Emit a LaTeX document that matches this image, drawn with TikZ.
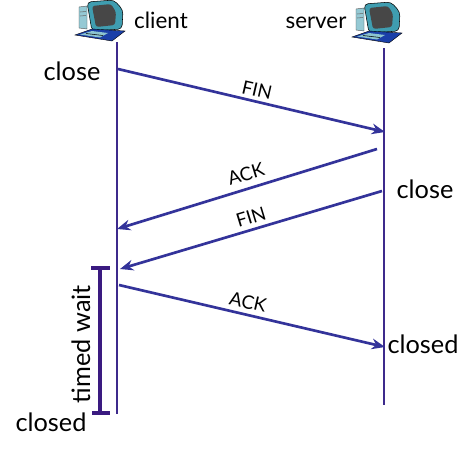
\documentclass[tikz,border=0pt]{standalone}
\usepackage{fontspec}
\setmainfont{Lato}
\usetikzlibrary{arrows.meta}
\definecolor{msg}{HTML}{33339A}
\definecolor{life}{HTML}{3D2A8C}
\definecolor{brk}{HTML}{3A1A80}
\definecolor{tealc}{HTML}{3F9DB0}
\definecolor{bluec}{HTML}{1A3FA8}
\tikzset{
  x=0.75pt,y=-0.75pt,
  lifeline/.style={draw=life,line width=1.4pt},
  message/.style={draw=msg,line width=2pt,-{Stealth[length=10pt,width=8pt]}},
  bracket/.style={draw=brk,line width=2.4pt},
  big/.style={font=\fontsize{19}{21}\selectfont,text=black,inner sep=0pt},
  small/.style={font=\fontsize{14}{16}\selectfont,text=black,inner sep=0pt},
  head/.style={font=\fontsize{16.8}{19}\selectfont,text=black,inner sep=0pt},
  pics/computer/.style={code={
    \fill[tealc!55!white,draw=black!70,line width=.3pt] (-21,-14) -- (-13,-15) -- (-13,8) -- (-21,7) -- cycle;
    \draw[black!60,line width=.4pt] (-20,-9) -- (-14,-9.5) (-20,-5) -- (-14,-5.5);
    \fill[tealc,draw=black,line width=.4pt,rounded corners=3pt] (-13,-19) -- (14,-21) -- (23,-11) -- (22,8) -- (-8,10) -- cycle;
    \fill[black!72,rounded corners=2pt] (-8,-15) -- (11,-17) -- (16,-9) -- (15,4) -- (-4,6) -- cycle;
    \fill[bluec,draw=black,line width=.3pt] (-25,14) -- (-8,8) -- (25,10) -- (12,20) -- cycle;
    \fill[tealc!60!white] (-20,13.5) -- (-8,10) -- (8,12) -- (0,16.5) -- cycle;
    \draw[black,line width=.4pt] (-14,12.5) -- (3,14.5);
  }}
}
\begin{document}
\begin{tikzpicture}
\useasboundingbox (0,0) rectangle (474,451);
\fill[white] (0,0) rectangle (474,451);
\pic at (100,21) {computer};
\pic at (377,23) {computer};
\node[head] (client) at (161,20) {client};
\node[head] (server) at (316,23) {server};
% lifelines
\coordinate (ctop) at (117,42);
\coordinate (cbot) at (117,414);
\coordinate (stop) at (384,48);
\coordinate (sbot) at (384,405);
\draw[lifeline] (ctop) -- (cbot);
\draw[lifeline] (stop) -- (sbot);
% messages
\coordinate (m1a) at (118,69);
\coordinate (m1b) at (385,132);
\coordinate (m2a) at (377,149);
\coordinate (m2b) at (117,229);
\coordinate (m3a) at (382,191);
\coordinate (m3b) at (120,269);
\coordinate (m4a) at (119,285);
\coordinate (m4b) at (385,347);
\draw[message] (m1a) -- (m1b);
\draw[message] (m2a) -- (m2b);
\draw[message] (m3a) -- (m3b);
\draw[message] (m4a) -- (m4b);
% bracket
\coordinate (bt) at (100,268);
\coordinate (bb) at (100,413);
\draw[bracket] (bt) -- (bb);
\draw[bracket] (91,268) -- (110,268);
\draw[bracket] (92,413) -- (110,413);
% labels
\node[big] (lclose1) at (72,71) {close};
\node[big] (lclose2) at (425,189) {close};
\node[big] (lclosed1) at (423,344) {closed};
\node[big] (lclosed2) at (51,422) {closed};
\node[big,rotate=90] (ltw) at (81,344) {timed wait};
\node[small,rotate=-13] (lfin1) at (257,90) {FIN};
\node[small,rotate=17] (lack1) at (246,174) {ACK};
\node[small,rotate=17] (lfin2) at (251,217) {FIN};
\node[small,rotate=-13] (lack2) at (248,302) {ACK};
\end{tikzpicture}
\end{document}
